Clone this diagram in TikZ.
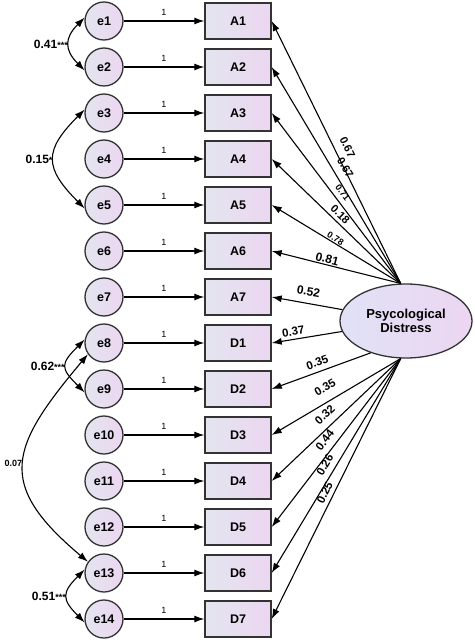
\documentclass[tikz,border=0pt]{standalone}
\usepackage{fontspec}
\setmainfont{Liberation Sans}
\usepackage{tikz}
\usetikzlibrary{shapes, arrows.meta, positioning}

\definecolor{shadeL}{HTML}{E3E5EF}
\definecolor{shadeR}{HTML}{ECD6F1}
\definecolor{rim}{HTML}{333333}

\tikzset{
  errnode/.style={circle, draw=rim, line width=1.3pt, minimum size=38pt, inner sep=0pt,
    left color=shadeL, right color=shadeR, font=\bfseries\fontsize{12.5}{14}\selectfont},
  itembox/.style={rectangle, draw=rim, line width=1.4pt, minimum width=66pt, minimum height=36pt,
    inner sep=0pt, left color=shadeL, right color=shadeR, font=\bfseries\fontsize{12.5}{14}\selectfont},
  latent/.style={ellipse, draw=rim, line width=1.3pt, minimum width=132pt, minimum height=74pt,
    inner sep=0pt, align=center, left color=shadeL!90!blue!60!white, right color=shadeR,
    font=\bfseries\fontsize{13}{14.5}\selectfont},
  pathline/.style={-{Latex[length=10pt, width=7pt]}, line width=1.1pt},
  covline/.style={{Latex[length=10pt, width=7pt]}-{Latex[length=10pt, width=7pt]}, line width=1.1pt},
  onelbl/.style={font=\fontsize{9}{10}\selectfont, inner sep=1pt},
  covlbl/.style={font=\bfseries\fontsize{12}{13}\selectfont, inner sep=1pt},
  loadlbl/.style={inner sep=1.5pt}
}

\begin{document}
\begin{tikzpicture}[x=1pt, y=1pt]
    \useasboundingbox (0,0) rectangle (474,-644);
    % indicators and their errors
    \foreach \nm [count=\en] in {A1,A2,A3,A4,A5,A6,A7,D1,D2,D3,D4,D5,D6,D7}{
        \node[errnode] (e\en) at (104,{-21-46*(\en-1)}) {e\en};
        \node[itembox] (\nm) at (238,{-21-46*(\en-1)}) {\nm};
        \draw[pathline] (e\en) -- node[above=4pt, onelbl] {1} (\nm);
    }
    % latent factor
    \node[latent] (PD) at (406,-321) {Psycological\\Distress};
    \coordinate (PDtop) at (PD.98);
    \coordinate (PDlow) at (PD.222);
    \coordinate (PDbot) at (PD.262);
    % loadings
    \foreach \nm/\from/\val/\ps/\dy/\fs in {A1/PDtop/0.67/0.498/6.3/11, A2/PDtop/0.67/0.508/5.9/11,
        A3/PDtop/0.71/0.504/3.4/9, A4/PDtop/0.18/0.51/1.8/11, A5/PDtop/0.78/0.522/-1/9,
        A6/PDtop/0.81/0.581/-0.5/12, A7/PD/0.52/0.51/5.7/12, D1/PD/0.37/0.676/1.6/11.5,
        D2/PDlow/0.35/0.506/3.1/11.5, D3/PDbot/0.35/0.533/7.4/11.5, D4/PDbot/0.32/0.527/5.3/11.5,
        D5/PDbot/0.44/0.522/4.7/11.5, D6/PDbot/0.26/0.52/4.1/11.5, D7/PDbot/0.25/0.53/2.4/11.5}{
        \draw[pathline] (\from) -- node[pos=\ps, sloped, above=\dy pt, loadlbl, font=\bfseries\fontsize{\fs}{\fs}\selectfont] {\val} (\nm.east);
    }
    % error covariances
    \draw[covline] (e1.170) to[out=225, in=135, looseness=1.4]
        node[left, covlbl] {0.41{\fontsize{9}{9}\selectfont***}} (e2.190);
    \draw[covline] (e3.170) to[out=225, in=135, looseness=1.5]
        node[left, covlbl] {0.15{\fontsize{9}{9}\selectfont*}} (e5.190);
    \draw[covline] (e8.170) to[out=225, in=135, looseness=1.68]
        node[left, covlbl] {0.62{\fontsize{9}{9}\selectfont***}} (e9.190);
    \draw[covline] (e8.215) to[out=230, in=140, looseness=1.5]
        node[left, covlbl, font=\bfseries\fontsize{9}{10}\selectfont] {0.07} (e13.145);
    \draw[covline] (e13.170) to[out=225, in=135, looseness=1.58]
        node[left, covlbl] {0.51{\fontsize{9}{9}\selectfont***}} (e14.190);
\end{tikzpicture}
\end{document}
